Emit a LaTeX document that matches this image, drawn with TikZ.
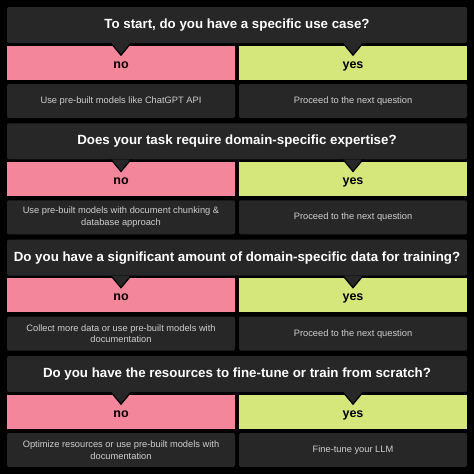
\documentclass[tikz,border=0pt]{standalone}
\usepackage{fontspec}
\setmainfont{Liberation Sans}
\usetikzlibrary{positioning}
\definecolor{panelgrey}{HTML}{272727}
\definecolor{nopink}{HTML}{F3869B}
\definecolor{yesgreen}{HTML}{D5E67A}
\definecolor{answergrey}{HTML}{CFCFCF}
\tikzset{
  question/.style={fill=panelgrey, rounded corners=2pt, minimum width=460pt,
    minimum height=36pt, inner sep=0pt, text=white,
    font=\bfseries\fontsize{13.3}{15}\selectfont},
  nobar/.style={fill=nopink, minimum width=228pt, minimum height=34pt,
    inner sep=0pt, text height=11pt, text depth=0pt,
    font=\bfseries\fontsize{12.5}{14}\selectfont},
  yesbar/.style={nobar, fill=yesgreen},
  answer/.style={fill=panelgrey, rounded corners=2pt, minimum width=228pt,
    minimum height=34pt, inner sep=0pt, align=center, text=answergrey,
    font=\fontsize{9.3}{11.6}\selectfont},
  pointer/.style={fill=panelgrey, draw=black, line width=1.2pt}
}

\begin{document}
\begin{tikzpicture}[x=1pt,y=-1pt]
  \fill[black] (0,0) rectangle (474,474);
  \useasboundingbox (0,0) rectangle (474,474);

  \foreach \t/\ques/\noans/\yesans [count=\i] in {
      7/{To start, do you have a specific use case?}/{Use pre-built models like ChatGPT API}/{Proceed to the next question},
      123.3/{Does your task require domain-specific expertise?}/{Use pre-built models with document chunking \&\\database approach}/{Proceed to the next question},
      239.6/{Do you have a significant amount of domain-specific data for training?}/{Collect more data or use pre-built models with\\documentation}/{Proceed to the next question},
      356/{Do you have the resources to fine-tune or train from scratch?}/{Optimize resources or use pre-built models with\\documentation}/{Fine-tune your LLM}}
  {
    \node [question] (q\i) at (237, \t+18) {\ques};
    \node [nobar] (no\i) at (121, \t+55.5) {no};
    \node [yesbar] (yes\i) at (353, \t+55.5) {yes};
    \node [answer] (na\i) at (121, \t+94) {\noans};
    \node [answer] (ya\i) at (353, \t+94) {\yesans};

    % pointers from the question down to both bars
    \coordinate (pn\i) at (q\i.south -| no\i.north);
    \coordinate (py\i) at (q\i.south -| yes\i.north);
    \draw [pointer] ([xshift=-10pt]pn\i) -- ([yshift=-12pt]pn\i) -- ([xshift=10pt]pn\i);
    \draw [pointer] ([xshift=-10pt]py\i) -- ([yshift=-12pt]py\i) -- ([xshift=10pt]py\i);
  }
\end{tikzpicture}
\end{document}
